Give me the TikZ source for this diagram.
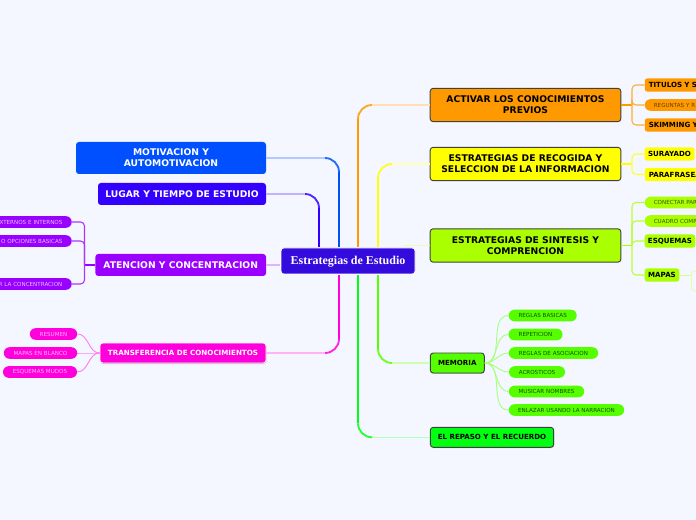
\documentclass[tikz,border=0pt]{standalone}
\usepackage{fontspec}
\setmainfont{DejaVu Sans}
\newfontfamily\rootfont{Liberation Serif}
\usetikzlibrary{calc,shadows}
\definecolor{cBack}{HTML}{F4F7FF}
\definecolor{cRoot}{HTML}{330BDD}
\definecolor{cMotiva}{HTML}{0050FF}
\definecolor{cLugar}{HTML}{3300FF}
\definecolor{cAtencion}{HTML}{9900FF}
\definecolor{cTransfer}{HTML}{FF00DD}
\definecolor{cActivar}{HTML}{FF9900}
\definecolor{cRecogida}{HTML}{FFFF00}
\definecolor{cSintesis}{HTML}{AAFF00}
\definecolor{cMemoria}{HTML}{55FF00}
\definecolor{cRepaso}{HTML}{00FF11}
\tikzset{
  rootbox/.style={fill=cRoot,draw=white,line width=0.5pt,rounded corners=2.2pt,text=white,outer sep=1pt,inner sep=0pt,
    font=\rootfont\fontsize{9}{10}\selectfont\bfseries,text depth=0.6pt},
  bigbox/.style={fill=#1,rounded corners=2.2pt,inner sep=0pt,align=center,text=black,
    font=\fontsize{6.9}{8.25}\selectfont\bfseries},
  leftbox/.style={bigbox=#1,text=white},
  rightbox/.style={bigbox=#1,draw=black!75,line width=0.7pt},
  midbox/.style={fill=#1,rounded corners=2pt,inner sep=0pt,text=black,minimum height=10pt,
    font=\fontsize{5.3}{7}\selectfont\bfseries},
  pill/.style={fill=#1,rounded corners=4.3pt,inner sep=0pt,minimum height=8.7pt,
    font=\fontsize{4.2}{6}\selectfont},
  cutright/.style={anchor=west,text width=60pt,align=left,inner xsep=3pt},
  cutrightsmall/.style={anchor=west,text width=60pt,align=left,inner xsep=6.8pt},
  cutleft/.style={anchor=east,text width=60pt,align=right,inner xsep=7pt},
  trunkline/.style={draw=#1,line width=1.9pt},
  bendline/.style={draw=#1!85,line width=1.4pt},
  tailline/.style={draw=#1!30,line width=0.9pt},
  stemline/.style={draw=#1,line width=1.1pt},
  subline/.style={draw=#1!80,line width=0.8pt,rounded corners=3pt},
  twigline/.style={draw=#1!50,line width=0.7pt},
}
\begin{document}
\begin{tikzpicture}[x=0.75pt,y=-0.75pt]
    \useasboundingbox[fill=cBack] (0,0) rectangle (696,520);

    \node[rootbox,minimum width=100.5pt,minimum height=19.5pt] (root) at (348,261) {Estrategias de Estudio};

    \node[leftbox=cMotiva,minimum width=142.5pt,minimum height=24pt] (motiva) at (171,158) {MOTIVACION Y\\AUTOMOTIVACION};
    \node[leftbox=cLugar,minimum width=126pt,minimum height=16.5pt] (lugar) at (182,194) {LUGAR Y TIEMPO DE ESTUDIO};
    \node[leftbox=cAtencion,minimum width=128pt,minimum height=16.5pt] (atencion) at (180.7,265) {ATENCION Y CONCENTRACION};
    \node[leftbox=cTransfer,minimum width=124.5pt,minimum height=15pt,draw=white,line width=0.5pt,drop shadow={shadow xshift=0.3pt,shadow yshift=-0.8pt,opacity=0.5},font=\fontsize{5.35}{7}\selectfont\bfseries] (transfer) at (183,353) {TRANSFERENCIA DE CONOCIMIENTOS};

    \node[rightbox=cActivar,minimum width=143pt,minimum height=25pt] (activar) at (525.5,105) {ACTIVAR LOS CONOCIMIENTOS\\PREVIOS};
    \node[rightbox=cRecogida,minimum width=143pt,minimum height=25pt] (recogida) at (525.5,164) {ESTRATEGIAS DE RECOGIDA Y\\SELECCION DE LA INFORMACION};
    \node[rightbox=cSintesis,minimum width=143pt,minimum height=25pt] (sintesis) at (525.5,245.5) {ESTRATEGIAS DE SINTESIS Y\\COMPRENCION};
    \node[rightbox=cMemoria,minimum width=40.5pt,minimum height=15pt,font=\fontsize{5.3}{7}\selectfont\bfseries,drop shadow={shadow xshift=0.3pt,shadow yshift=-0.6pt,opacity=0.5}] (memoria) at (457.3,363) {MEMORIA};
    \node[rightbox=cRepaso,minimum width=92.5pt,minimum height=15pt,font=\fontsize{5.3}{7}\selectfont\bfseries,drop shadow={shadow xshift=0.3pt,shadow yshift=-0.6pt,opacity=0.5}] (repaso) at (492,437.3) {EL REPASO Y EL RECUERDO};

    \node[midbox=cActivar,cutright] (titulos) at (644.5,85) {TITULOS Y S};
    \node[pill=cActivar,cutrightsmall,text=black!60!cActivar] (reguntas) at (644.5,105) {REGUNTAS Y R};
    \node[midbox=cActivar,cutright] (skimming) at (644.5,125) {SKIMMING Y};

    \node[midbox=cRecogida,minimum width=37.5pt] (surayado) at (669.5,154) {SURAYADO};
    \node[midbox=cRecogida,cutright] (parafrase) at (644.5,174.5) {PARAFRASEA};

    \node[pill=cSintesis,cutrightsmall,text=black!65!cSintesis] (conectar) at (644.5,202.5) {CONECTAR PAR};
    \node[pill=cSintesis,cutrightsmall,text=black!65!cSintesis] (cuadro) at (644.5,221) {CUADRO COMP};
    \node[midbox=cSintesis,minimum width=38pt] (esquemas) at (670,241) {ESQUEMAS};
    \node[midbox=cSintesis,minimum width=26pt] (mapas) at (662,275) {MAPAS};
    \node[draw=cSintesis!35,fill=cBack,line width=0.7pt,rounded corners=2.5pt,anchor=west,minimum width=30pt,minimum height=15pt] (mapasub) at (691,281) {};

    \node[pill=cMemoria,minimum width=51pt,text=black!70!cMemoria] (reglas) at (542.7,315.5) {REGLAS BASICAS};
    \node[pill=cMemoria,minimum width=40.5pt,text=black!70!cMemoria] (repeticion) at (535.5,334.5) {REPETICION};
    \node[pill=cMemoria,minimum width=67pt,text=black!70!cMemoria] (asociacion) at (553.5,353) {REGLAS DE ASOCIACION};
    \node[pill=cMemoria,minimum width=42pt,text=black!70!cMemoria] (acrosticos) at (537,372) {ACROSTICOS};
    \node[pill=cMemoria,minimum width=56.5pt,text=black!70!cMemoria] (musicar) at (546.5,391.5) {MUSICAR NOMBRES};
    \node[pill=cMemoria,minimum width=86.5pt,text=black!70!cMemoria] (enlazar) at (566.5,410) {ENLAZAR USANDO LA NARRACION};

    \node[pill=cAtencion,cutleft,text=cAtencion!25] (externos) at (72,222) {EXTERNOS E INTERNOS};
    \node[pill=cAtencion,cutleft,text=cAtencion!25] (opciones) at (72,241) {O OPCIONES BASICAS};
    \node[pill=cAtencion,cutleft,text=cAtencion!25] (concentra) at (72,284) {R LA CONCENTRACION};

    \node[pill=cTransfer,minimum width=35.5pt,text=cTransfer!30] (resumen) at (53.5,334) {RESUMEN};
    \node[pill=cTransfer,minimum width=55pt,text=cTransfer!30] (blanco) at (40.5,353) {MAPAS EN BLANCO};
    \node[pill=cTransfer,minimum width=55.5pt,text=cTransfer!30] (mudos) at (40,372) {ESQUEMAS MUDOS};

    \coordinate (trA) at (358,0);
    \coordinate (trB) at (378,0);
    \coordinate (trC) at (339,0);
    \coordinate (trD) at (319,0);
    \coordinate (trE) at (404,0);
    \coordinate (hubA) at (632,105);
    \coordinate (hubB) at (632,164);
    \coordinate (hubC) at (632,245.5);
    \coordinate (hubD) at (84.5,265);

    \foreach \nm/\tr/\col in {activar/trA/cActivar,recogida/trB/cRecogida}{
      \draw[trunkline=\col] (root.north -| \tr) -- ($(\tr |- \nm.west)+(0,14)$);
      \draw[bendline=\col] ($(\tr |- \nm.west)+(0,14)$) to[out=90,in=180] ($(\tr |- \nm.west)+(14,0)$);
      \draw[tailline=\col] ($(\tr |- \nm.west)+(14,0)$) -- (\nm.west);
    }
    \foreach \nm/\tr/\col in {memoria/trB/cMemoria,repaso/trA/cRepaso}{
      \draw[trunkline=\col] (root.south -| \tr) -- ($(\tr |- \nm.west)+(0,-14)$);
      \draw[bendline=\col] ($(\tr |- \nm.west)+(0,-14)$) to[out=-90,in=180] ($(\tr |- \nm.west)+(14,0)$);
      \draw[tailline=\col] ($(\tr |- \nm.west)+(14,0)$) -- (\nm.west);
    }
    \foreach \nm/\tr/\col in {motiva/trC/cMotiva,lugar/trD/cLugar}{
      \draw[trunkline=\col] (root.north -| \tr) -- ($(\tr |- \nm.east)+(0,14)$);
      \draw[bendline=\col] ($(\tr |- \nm.east)+(0,14)$) to[out=90,in=0] ($(\tr |- \nm.east)+(-14,0)$);
      \draw[tailline=\col] ($(\tr |- \nm.east)+(-14,0)$) -- (\nm.east);
    }
    \draw[trunkline=cTransfer] (root.south -| trC) -- ($(trC |- transfer.east)+(0,-14)$);
    \draw[bendline=cTransfer] ($(trC |- transfer.east)+(0,-14)$) to[out=-90,in=0] ($(trC |- transfer.east)+(-14,0)$);
    \draw[tailline=cTransfer] ($(trC |- transfer.east)+(-14,0)$) -- (transfer.east);
    \draw[tailline=cAtencion] (root.west |- atencion.east) -- (atencion.east);
    \draw[tailline=cSintesis] (trE |- sintesis.west) -- (sintesis.west);

    \draw[stemline=cActivar] (activar.east) -- (hubA);
    \draw[stemline=cRecogida] (recogida.east) -- (hubB);
    \draw[stemline=cSintesis] (sintesis.east) -- (hubC);
    \draw[stemline=cAtencion] (atencion.west) -- (hubD);
    \foreach \nm in {titulos,reguntas,skimming}
      \draw[subline=cActivar] (hubA) |- (\nm.west);
    \foreach \nm in {surayado,parafrase}
      \draw[subline=cRecogida] (hubB) |- (\nm.west);
    \foreach \nm in {conectar,cuadro,esquemas,mapas}
      \draw[subline=cSintesis] (hubC) |- (\nm.west);
    \foreach \nm in {externos,opciones,concentra}
      \draw[subline=cAtencion] (hubD) |- (\nm.east);
    \draw[twigline=cSintesis] (mapas.east) -- (mapas.east -| mapasub.west);

    \foreach \nm in {reglas,repeticion,asociacion,acrosticos,musicar,enlazar}
      \draw[twigline=cMemoria] (memoria.east) to[out=0,in=180] (\nm.west);
    \foreach \nm in {resumen,blanco,mudos}
      \draw[twigline=cTransfer] (transfer.west) to[out=180,in=0] (\nm.east);
\end{tikzpicture}
\end{document}
